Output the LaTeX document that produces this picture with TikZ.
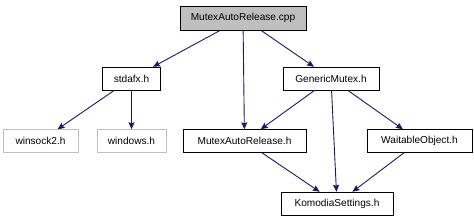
\documentclass[tikz,border=0pt]{standalone}
\usepackage{fontspec}
\setmainfont{Liberation Sans}
\usepackage{tikz}
\usetikzlibrary{arrows.meta}
\definecolor{edgeblue}{RGB}{25,25,112}
\definecolor{rootgray}{RGB}{191,191,191}

\begin{document}
\begin{tikzpicture}[x=1pt,y=-1pt,
  file/.style={rectangle,draw=black,fill=white,minimum height=23pt,inner sep=0pt,font=\fontsize{10.1}{12}\selectfont},
  extfile/.style={file,draw=rootgray},
  include/.style={-{Stealth[length=7pt,width=6pt,inset=1pt]},draw=edgeblue,line width=0.9pt}]
  \useasboundingbox (0,0) rectangle (474,220);

  \node[file,fill=rootgray,minimum width=126pt,minimum height=24pt] (cpp) at (243,18) {MutexAutoRelease.cpp};
  \node[file,minimum width=58pt] (stdafx) at (131.5,78.5) {stdafx.h};
  \node[file,minimum width=96pt] (generic) at (331,78.5) {GenericMutex.h};
  \node[extfile,minimum width=75pt] (winsock) at (40.5,141) {winsock2.h};
  \node[extfile,minimum width=69pt] (windows) at (131.5,141) {windows.h};
  \node[file,minimum width=123pt] (releaseh) at (244.5,141) {MutexAutoRelease.h};
  \node[file,minimum width=105pt] (waitable) at (419.5,141) {WaitableObject.h};
  \node[file,minimum width=112pt] (settings) at (337,203.5) {KomodiaSettings.h};

  \draw[include] (cpp) -- (stdafx);
  \draw[include] (cpp) -- (releaseh);
  \draw[include] (cpp) -- (generic);
  \draw[include] (stdafx) -- (winsock);
  \draw[include] (stdafx) -- (windows);
  \draw[include] (generic) -- (releaseh);
  \draw[include] (generic) -- (settings);
  \draw[include] (generic) -- (waitable);
  \draw[include] (releaseh) -- (settings);
  \draw[include] (waitable) -- (settings);
\end{tikzpicture}
\end{document}
